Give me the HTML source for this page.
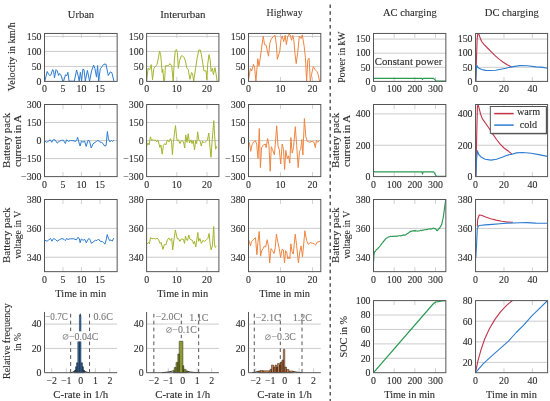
<!DOCTYPE html><html><head><meta charset="utf-8"><style>
html,body{margin:0;padding:0;background:#fff;width:550px;height:401px;overflow:hidden}
svg{display:block;will-change:transform} text{font-family:"Liberation Serif",serif;fill:#2b2b2b;stroke:#2b2b2b;stroke-width:0.1px} .t{font-size:9.9px}
</style></head><body>
<svg width="550" height="401" viewBox="0 0 550 401">
<defs>
<clipPath id="c00"><rect x="44.50" y="33.45" width="72.65" height="47.95"/></clipPath>
<clipPath id="c01"><rect x="146.60" y="33.45" width="72.30" height="47.95"/></clipPath>
<clipPath id="c02"><rect x="248.50" y="33.45" width="72.30" height="47.95"/></clipPath>
<clipPath id="c03"><rect x="373.50" y="33.45" width="72.35" height="47.95"/></clipPath>
<clipPath id="c04"><rect x="475.55" y="33.45" width="72.05" height="47.95"/></clipPath>
<clipPath id="c10"><rect x="44.50" y="104.50" width="72.65" height="72.10"/></clipPath>
<clipPath id="c11"><rect x="146.60" y="104.50" width="72.30" height="72.10"/></clipPath>
<clipPath id="c12"><rect x="248.50" y="104.50" width="72.30" height="72.10"/></clipPath>
<clipPath id="c13"><rect x="373.50" y="104.50" width="72.35" height="72.10"/></clipPath>
<clipPath id="c14"><rect x="475.55" y="104.50" width="72.05" height="72.10"/></clipPath>
<clipPath id="c20"><rect x="44.50" y="199.50" width="72.65" height="72.15"/></clipPath>
<clipPath id="c21"><rect x="146.60" y="199.50" width="72.30" height="72.15"/></clipPath>
<clipPath id="c22"><rect x="248.50" y="199.50" width="72.30" height="72.15"/></clipPath>
<clipPath id="c23"><rect x="373.50" y="199.50" width="72.35" height="72.15"/></clipPath>
<clipPath id="c24"><rect x="475.55" y="199.50" width="72.05" height="72.15"/></clipPath>
<clipPath id="c30"><rect x="44.50" y="300.60" width="72.65" height="72.10"/></clipPath>
<clipPath id="c31"><rect x="146.60" y="300.60" width="72.30" height="72.10"/></clipPath>
<clipPath id="c32"><rect x="248.50" y="300.60" width="72.30" height="72.10"/></clipPath>
<clipPath id="c33"><rect x="373.50" y="300.60" width="72.35" height="72.10"/></clipPath>
<clipPath id="c34"><rect x="475.55" y="300.60" width="72.05" height="72.10"/></clipPath>
</defs>
<text x="67.75" y="18.00" font-size="9.6" textLength="26.40" lengthAdjust="spacingAndGlyphs">Urban</text>
<text x="160.15" y="18.00" font-size="9.6" textLength="45.40" lengthAdjust="spacingAndGlyphs">Interurban</text>
<text x="266.55" y="16.20" font-size="9.6" textLength="36.10" lengthAdjust="spacingAndGlyphs">Highway</text>
<text x="382.95" y="16.20" font-size="9.6" textLength="53.70" lengthAdjust="spacingAndGlyphs">AC charging</text>
<text x="484.75" y="16.20" font-size="9.6" textLength="54.10" lengthAdjust="spacingAndGlyphs">DC charging</text>
<text x="55.38" y="296.70" font-size="9.6" textLength="50.80" lengthAdjust="spacingAndGlyphs">Time in min</text>
<text x="53.33" y="397.60" font-size="9.6" textLength="54.90" lengthAdjust="spacingAndGlyphs">C-rate in 1/h</text>
<text x="157.30" y="296.70" font-size="9.6" textLength="50.80" lengthAdjust="spacingAndGlyphs">Time in min</text>
<text x="155.25" y="397.60" font-size="9.6" textLength="54.90" lengthAdjust="spacingAndGlyphs">C-rate in 1/h</text>
<text x="259.20" y="296.70" font-size="9.6" textLength="50.80" lengthAdjust="spacingAndGlyphs">Time in min</text>
<text x="257.15" y="397.60" font-size="9.6" textLength="54.90" lengthAdjust="spacingAndGlyphs">C-rate in 1/h</text>
<text x="384.23" y="398.00" font-size="9.6" textLength="50.80" lengthAdjust="spacingAndGlyphs">Time in min</text>
<text x="486.13" y="398.00" font-size="9.6" textLength="50.80" lengthAdjust="spacingAndGlyphs">Time in min</text>
<text transform="translate(15.20 56.70) rotate(-90)" x="0" y="0" text-anchor="middle" font-size="9.6" textLength="69.00" lengthAdjust="spacingAndGlyphs">Velocity in km/h</text>
<text transform="translate(9.80 140.40) rotate(-90)" x="0" y="0" text-anchor="middle" font-size="9.6" textLength="55.20" lengthAdjust="spacingAndGlyphs">Battery pack</text>
<text transform="translate(21.00 140.85) rotate(-90)" x="0" y="0" text-anchor="middle" font-size="9.6" textLength="52.10" lengthAdjust="spacingAndGlyphs">current in A</text>
<text transform="translate(9.80 235.25) rotate(-90)" x="0" y="0" text-anchor="middle" font-size="9.6" textLength="55.50" lengthAdjust="spacingAndGlyphs">Battery pack</text>
<text transform="translate(21.00 234.75) rotate(-90)" x="0" y="0" text-anchor="middle" font-size="9.6" textLength="48.10" lengthAdjust="spacingAndGlyphs">voltage in V</text>
<text transform="translate(9.90 341.10) rotate(-90)" x="0" y="0" text-anchor="middle" font-size="9.6" textLength="75.80" lengthAdjust="spacingAndGlyphs">Relative frequency</text>
<text transform="translate(21.00 341.95) rotate(-90)" x="0" y="0" text-anchor="middle" font-size="9.6" textLength="17.90" lengthAdjust="spacingAndGlyphs">in %</text>
<text transform="translate(344.90 57.15) rotate(-90)" x="0" y="0" text-anchor="middle" font-size="9.6" textLength="51.10" lengthAdjust="spacingAndGlyphs">Power in kW</text>
<text transform="translate(338.70 140.40) rotate(-90)" x="0" y="0" text-anchor="middle" font-size="9.6" textLength="55.20" lengthAdjust="spacingAndGlyphs">Battery pack</text>
<text transform="translate(349.70 140.85) rotate(-90)" x="0" y="0" text-anchor="middle" font-size="9.6" textLength="52.10" lengthAdjust="spacingAndGlyphs">current in A</text>
<text transform="translate(338.70 235.25) rotate(-90)" x="0" y="0" text-anchor="middle" font-size="9.6" textLength="55.50" lengthAdjust="spacingAndGlyphs">Battery pack</text>
<text transform="translate(349.70 234.75) rotate(-90)" x="0" y="0" text-anchor="middle" font-size="9.6" textLength="48.10" lengthAdjust="spacingAndGlyphs">voltage in V</text>
<text transform="translate(347.10 336.75) rotate(-90)" x="0" y="0" text-anchor="middle" font-size="9.6" textLength="41.50" lengthAdjust="spacingAndGlyphs">SOC in %</text>
<line x1="44.50" y1="66.42" x2="117.15" y2="66.42" stroke="#c6c6c6" stroke-width="0.9"/>
<line x1="44.50" y1="51.43" x2="117.15" y2="51.43" stroke="#c6c6c6" stroke-width="0.9"/>
<line x1="44.50" y1="36.45" x2="117.15" y2="36.45" stroke="#c6c6c6" stroke-width="0.9"/>
<line x1="62.97" y1="81.40" x2="62.97" y2="76.90" stroke="#cccccc" stroke-width="0.9"/>
<line x1="62.97" y1="33.45" x2="62.97" y2="37.95" stroke="#cccccc" stroke-width="0.9"/>
<line x1="81.43" y1="81.40" x2="81.43" y2="76.90" stroke="#cccccc" stroke-width="0.9"/>
<line x1="81.43" y1="33.45" x2="81.43" y2="37.95" stroke="#cccccc" stroke-width="0.9"/>
<line x1="99.90" y1="81.40" x2="99.90" y2="76.90" stroke="#cccccc" stroke-width="0.9"/>
<line x1="99.90" y1="33.45" x2="99.90" y2="37.95" stroke="#cccccc" stroke-width="0.9"/>
<text x="41.50" y="84.70" text-anchor="end" class="t">0</text>
<text x="41.50" y="69.72" text-anchor="end" class="t">50</text>
<text x="41.50" y="54.73" text-anchor="end" class="t">100</text>
<text x="41.50" y="39.75" text-anchor="end" class="t">150</text>
<text x="44.50" y="92.40" text-anchor="middle" class="t">0</text>
<text x="62.97" y="92.40" text-anchor="middle" class="t">5</text>
<text x="81.43" y="92.40" text-anchor="middle" class="t">10</text>
<text x="99.90" y="92.40" text-anchor="middle" class="t">15</text>
<line x1="146.60" y1="66.42" x2="218.90" y2="66.42" stroke="#c6c6c6" stroke-width="0.9"/>
<line x1="146.60" y1="51.43" x2="218.90" y2="51.43" stroke="#c6c6c6" stroke-width="0.9"/>
<line x1="146.60" y1="36.45" x2="218.90" y2="36.45" stroke="#c6c6c6" stroke-width="0.9"/>
<line x1="176.80" y1="81.40" x2="176.80" y2="76.90" stroke="#cccccc" stroke-width="0.9"/>
<line x1="176.80" y1="33.45" x2="176.80" y2="37.95" stroke="#cccccc" stroke-width="0.9"/>
<line x1="207.00" y1="81.40" x2="207.00" y2="76.90" stroke="#cccccc" stroke-width="0.9"/>
<line x1="207.00" y1="33.45" x2="207.00" y2="37.95" stroke="#cccccc" stroke-width="0.9"/>
<text x="143.60" y="84.70" text-anchor="end" class="t">0</text>
<text x="143.60" y="69.72" text-anchor="end" class="t">50</text>
<text x="143.60" y="54.73" text-anchor="end" class="t">100</text>
<text x="143.60" y="39.75" text-anchor="end" class="t">150</text>
<text x="146.60" y="92.40" text-anchor="middle" class="t">0</text>
<text x="176.80" y="92.40" text-anchor="middle" class="t">10</text>
<text x="207.00" y="92.40" text-anchor="middle" class="t">20</text>
<line x1="248.50" y1="66.42" x2="320.80" y2="66.42" stroke="#c6c6c6" stroke-width="0.9"/>
<line x1="248.50" y1="51.43" x2="320.80" y2="51.43" stroke="#c6c6c6" stroke-width="0.9"/>
<line x1="248.50" y1="36.45" x2="320.80" y2="36.45" stroke="#c6c6c6" stroke-width="0.9"/>
<line x1="280.49" y1="81.40" x2="280.49" y2="76.90" stroke="#cccccc" stroke-width="0.9"/>
<line x1="280.49" y1="33.45" x2="280.49" y2="37.95" stroke="#cccccc" stroke-width="0.9"/>
<line x1="312.48" y1="81.40" x2="312.48" y2="76.90" stroke="#cccccc" stroke-width="0.9"/>
<line x1="312.48" y1="33.45" x2="312.48" y2="37.95" stroke="#cccccc" stroke-width="0.9"/>
<text x="245.50" y="84.70" text-anchor="end" class="t">0</text>
<text x="245.50" y="69.72" text-anchor="end" class="t">50</text>
<text x="245.50" y="54.73" text-anchor="end" class="t">100</text>
<text x="245.50" y="39.75" text-anchor="end" class="t">150</text>
<text x="248.50" y="92.40" text-anchor="middle" class="t">0</text>
<text x="280.49" y="92.40" text-anchor="middle" class="t">10</text>
<text x="312.48" y="92.40" text-anchor="middle" class="t">20</text>
<line x1="373.50" y1="67.30" x2="445.85" y2="67.30" stroke="#c6c6c6" stroke-width="0.9"/>
<line x1="373.50" y1="53.19" x2="445.85" y2="53.19" stroke="#c6c6c6" stroke-width="0.9"/>
<line x1="373.50" y1="39.09" x2="445.85" y2="39.09" stroke="#c6c6c6" stroke-width="0.9"/>
<line x1="394.17" y1="81.40" x2="394.17" y2="76.90" stroke="#cccccc" stroke-width="0.9"/>
<line x1="394.17" y1="33.45" x2="394.17" y2="37.95" stroke="#cccccc" stroke-width="0.9"/>
<line x1="414.84" y1="81.40" x2="414.84" y2="76.90" stroke="#cccccc" stroke-width="0.9"/>
<line x1="414.84" y1="33.45" x2="414.84" y2="37.95" stroke="#cccccc" stroke-width="0.9"/>
<line x1="435.51" y1="81.40" x2="435.51" y2="76.90" stroke="#cccccc" stroke-width="0.9"/>
<line x1="435.51" y1="33.45" x2="435.51" y2="37.95" stroke="#cccccc" stroke-width="0.9"/>
<text x="370.50" y="84.70" text-anchor="end" class="t">0</text>
<text x="370.50" y="70.60" text-anchor="end" class="t">50</text>
<text x="370.50" y="56.49" text-anchor="end" class="t">100</text>
<text x="370.50" y="42.39" text-anchor="end" class="t">150</text>
<text x="373.50" y="92.40" text-anchor="middle" class="t">0</text>
<text x="394.17" y="92.40" text-anchor="middle" class="t">100</text>
<text x="414.84" y="92.40" text-anchor="middle" class="t">200</text>
<text x="435.51" y="92.40" text-anchor="middle" class="t">300</text>
<line x1="475.55" y1="67.30" x2="547.60" y2="67.30" stroke="#c6c6c6" stroke-width="0.9"/>
<line x1="475.55" y1="53.19" x2="547.60" y2="53.19" stroke="#c6c6c6" stroke-width="0.9"/>
<line x1="475.55" y1="39.09" x2="547.60" y2="39.09" stroke="#c6c6c6" stroke-width="0.9"/>
<line x1="503.97" y1="81.40" x2="503.97" y2="76.90" stroke="#cccccc" stroke-width="0.9"/>
<line x1="503.97" y1="33.45" x2="503.97" y2="37.95" stroke="#cccccc" stroke-width="0.9"/>
<line x1="532.39" y1="81.40" x2="532.39" y2="76.90" stroke="#cccccc" stroke-width="0.9"/>
<line x1="532.39" y1="33.45" x2="532.39" y2="37.95" stroke="#cccccc" stroke-width="0.9"/>
<text x="472.55" y="84.70" text-anchor="end" class="t">0</text>
<text x="472.55" y="70.60" text-anchor="end" class="t">50</text>
<text x="472.55" y="56.49" text-anchor="end" class="t">100</text>
<text x="472.55" y="42.39" text-anchor="end" class="t">150</text>
<text x="475.55" y="92.40" text-anchor="middle" class="t">0</text>
<text x="503.97" y="92.40" text-anchor="middle" class="t">20</text>
<text x="532.39" y="92.40" text-anchor="middle" class="t">40</text>
<line x1="44.50" y1="158.57" x2="117.15" y2="158.57" stroke="#c6c6c6" stroke-width="0.9"/>
<line x1="44.50" y1="140.55" x2="117.15" y2="140.55" stroke="#c6c6c6" stroke-width="0.9"/>
<line x1="44.50" y1="122.53" x2="117.15" y2="122.53" stroke="#c6c6c6" stroke-width="0.9"/>
<line x1="62.97" y1="176.60" x2="62.97" y2="172.10" stroke="#cccccc" stroke-width="0.9"/>
<line x1="62.97" y1="104.50" x2="62.97" y2="109.00" stroke="#cccccc" stroke-width="0.9"/>
<line x1="81.43" y1="176.60" x2="81.43" y2="172.10" stroke="#cccccc" stroke-width="0.9"/>
<line x1="81.43" y1="104.50" x2="81.43" y2="109.00" stroke="#cccccc" stroke-width="0.9"/>
<line x1="99.90" y1="176.60" x2="99.90" y2="172.10" stroke="#cccccc" stroke-width="0.9"/>
<line x1="99.90" y1="104.50" x2="99.90" y2="109.00" stroke="#cccccc" stroke-width="0.9"/>
<text x="41.50" y="179.90" text-anchor="end" class="t">−300</text>
<text x="41.50" y="161.88" text-anchor="end" class="t">−150</text>
<text x="41.50" y="143.85" text-anchor="end" class="t">0</text>
<text x="41.50" y="125.83" text-anchor="end" class="t">150</text>
<text x="41.50" y="107.80" text-anchor="end" class="t">300</text>
<text x="44.50" y="187.60" text-anchor="middle" class="t">0</text>
<text x="62.97" y="187.60" text-anchor="middle" class="t">5</text>
<text x="81.43" y="187.60" text-anchor="middle" class="t">10</text>
<text x="99.90" y="187.60" text-anchor="middle" class="t">15</text>
<line x1="146.60" y1="158.57" x2="218.90" y2="158.57" stroke="#c6c6c6" stroke-width="0.9"/>
<line x1="146.60" y1="140.55" x2="218.90" y2="140.55" stroke="#c6c6c6" stroke-width="0.9"/>
<line x1="146.60" y1="122.53" x2="218.90" y2="122.53" stroke="#c6c6c6" stroke-width="0.9"/>
<line x1="176.80" y1="176.60" x2="176.80" y2="172.10" stroke="#cccccc" stroke-width="0.9"/>
<line x1="176.80" y1="104.50" x2="176.80" y2="109.00" stroke="#cccccc" stroke-width="0.9"/>
<line x1="207.00" y1="176.60" x2="207.00" y2="172.10" stroke="#cccccc" stroke-width="0.9"/>
<line x1="207.00" y1="104.50" x2="207.00" y2="109.00" stroke="#cccccc" stroke-width="0.9"/>
<text x="143.60" y="179.90" text-anchor="end" class="t">−300</text>
<text x="143.60" y="161.88" text-anchor="end" class="t">−150</text>
<text x="143.60" y="143.85" text-anchor="end" class="t">0</text>
<text x="143.60" y="125.83" text-anchor="end" class="t">150</text>
<text x="143.60" y="107.80" text-anchor="end" class="t">300</text>
<text x="146.60" y="187.60" text-anchor="middle" class="t">0</text>
<text x="176.80" y="187.60" text-anchor="middle" class="t">10</text>
<text x="207.00" y="187.60" text-anchor="middle" class="t">20</text>
<line x1="248.50" y1="158.57" x2="320.80" y2="158.57" stroke="#c6c6c6" stroke-width="0.9"/>
<line x1="248.50" y1="140.55" x2="320.80" y2="140.55" stroke="#c6c6c6" stroke-width="0.9"/>
<line x1="248.50" y1="122.53" x2="320.80" y2="122.53" stroke="#c6c6c6" stroke-width="0.9"/>
<line x1="280.49" y1="176.60" x2="280.49" y2="172.10" stroke="#cccccc" stroke-width="0.9"/>
<line x1="280.49" y1="104.50" x2="280.49" y2="109.00" stroke="#cccccc" stroke-width="0.9"/>
<line x1="312.48" y1="176.60" x2="312.48" y2="172.10" stroke="#cccccc" stroke-width="0.9"/>
<line x1="312.48" y1="104.50" x2="312.48" y2="109.00" stroke="#cccccc" stroke-width="0.9"/>
<text x="245.50" y="179.90" text-anchor="end" class="t">−300</text>
<text x="245.50" y="161.88" text-anchor="end" class="t">−150</text>
<text x="245.50" y="143.85" text-anchor="end" class="t">0</text>
<text x="245.50" y="125.83" text-anchor="end" class="t">150</text>
<text x="245.50" y="107.80" text-anchor="end" class="t">300</text>
<text x="248.50" y="187.60" text-anchor="middle" class="t">0</text>
<text x="280.49" y="187.60" text-anchor="middle" class="t">10</text>
<text x="312.48" y="187.60" text-anchor="middle" class="t">20</text>
<line x1="373.50" y1="145.25" x2="445.85" y2="145.25" stroke="#c6c6c6" stroke-width="0.9"/>
<line x1="373.50" y1="113.90" x2="445.85" y2="113.90" stroke="#c6c6c6" stroke-width="0.9"/>
<line x1="394.17" y1="176.60" x2="394.17" y2="172.10" stroke="#cccccc" stroke-width="0.9"/>
<line x1="394.17" y1="104.50" x2="394.17" y2="109.00" stroke="#cccccc" stroke-width="0.9"/>
<line x1="414.84" y1="176.60" x2="414.84" y2="172.10" stroke="#cccccc" stroke-width="0.9"/>
<line x1="414.84" y1="104.50" x2="414.84" y2="109.00" stroke="#cccccc" stroke-width="0.9"/>
<line x1="435.51" y1="176.60" x2="435.51" y2="172.10" stroke="#cccccc" stroke-width="0.9"/>
<line x1="435.51" y1="104.50" x2="435.51" y2="109.00" stroke="#cccccc" stroke-width="0.9"/>
<text x="370.50" y="179.90" text-anchor="end" class="t">0</text>
<text x="370.50" y="148.55" text-anchor="end" class="t">200</text>
<text x="370.50" y="117.20" text-anchor="end" class="t">400</text>
<text x="373.50" y="187.60" text-anchor="middle" class="t">0</text>
<text x="394.17" y="187.60" text-anchor="middle" class="t">100</text>
<text x="414.84" y="187.60" text-anchor="middle" class="t">200</text>
<text x="435.51" y="187.60" text-anchor="middle" class="t">300</text>
<line x1="475.55" y1="145.25" x2="547.60" y2="145.25" stroke="#c6c6c6" stroke-width="0.9"/>
<line x1="475.55" y1="113.90" x2="547.60" y2="113.90" stroke="#c6c6c6" stroke-width="0.9"/>
<line x1="503.97" y1="176.60" x2="503.97" y2="172.10" stroke="#cccccc" stroke-width="0.9"/>
<line x1="503.97" y1="104.50" x2="503.97" y2="109.00" stroke="#cccccc" stroke-width="0.9"/>
<line x1="532.39" y1="176.60" x2="532.39" y2="172.10" stroke="#cccccc" stroke-width="0.9"/>
<line x1="532.39" y1="104.50" x2="532.39" y2="109.00" stroke="#cccccc" stroke-width="0.9"/>
<text x="472.55" y="179.90" text-anchor="end" class="t">0</text>
<text x="472.55" y="148.55" text-anchor="end" class="t">200</text>
<text x="472.55" y="117.20" text-anchor="end" class="t">400</text>
<text x="475.55" y="187.60" text-anchor="middle" class="t">0</text>
<text x="503.97" y="187.60" text-anchor="middle" class="t">20</text>
<text x="532.39" y="187.60" text-anchor="middle" class="t">40</text>
<line x1="44.50" y1="257.22" x2="117.15" y2="257.22" stroke="#c6c6c6" stroke-width="0.9"/>
<line x1="44.50" y1="228.36" x2="117.15" y2="228.36" stroke="#c6c6c6" stroke-width="0.9"/>
<line x1="62.97" y1="271.65" x2="62.97" y2="267.15" stroke="#cccccc" stroke-width="0.9"/>
<line x1="62.97" y1="199.50" x2="62.97" y2="204.00" stroke="#cccccc" stroke-width="0.9"/>
<line x1="81.43" y1="271.65" x2="81.43" y2="267.15" stroke="#cccccc" stroke-width="0.9"/>
<line x1="81.43" y1="199.50" x2="81.43" y2="204.00" stroke="#cccccc" stroke-width="0.9"/>
<line x1="99.90" y1="271.65" x2="99.90" y2="267.15" stroke="#cccccc" stroke-width="0.9"/>
<line x1="99.90" y1="199.50" x2="99.90" y2="204.00" stroke="#cccccc" stroke-width="0.9"/>
<text x="41.50" y="260.52" text-anchor="end" class="t">340</text>
<text x="41.50" y="231.66" text-anchor="end" class="t">360</text>
<text x="41.50" y="202.80" text-anchor="end" class="t">380</text>
<text x="44.50" y="282.65" text-anchor="middle" class="t">0</text>
<text x="62.97" y="282.65" text-anchor="middle" class="t">5</text>
<text x="81.43" y="282.65" text-anchor="middle" class="t">10</text>
<text x="99.90" y="282.65" text-anchor="middle" class="t">15</text>
<line x1="146.60" y1="257.22" x2="218.90" y2="257.22" stroke="#c6c6c6" stroke-width="0.9"/>
<line x1="146.60" y1="228.36" x2="218.90" y2="228.36" stroke="#c6c6c6" stroke-width="0.9"/>
<line x1="176.80" y1="271.65" x2="176.80" y2="267.15" stroke="#cccccc" stroke-width="0.9"/>
<line x1="176.80" y1="199.50" x2="176.80" y2="204.00" stroke="#cccccc" stroke-width="0.9"/>
<line x1="207.00" y1="271.65" x2="207.00" y2="267.15" stroke="#cccccc" stroke-width="0.9"/>
<line x1="207.00" y1="199.50" x2="207.00" y2="204.00" stroke="#cccccc" stroke-width="0.9"/>
<text x="143.60" y="260.52" text-anchor="end" class="t">340</text>
<text x="143.60" y="231.66" text-anchor="end" class="t">360</text>
<text x="143.60" y="202.80" text-anchor="end" class="t">380</text>
<text x="146.60" y="282.65" text-anchor="middle" class="t">0</text>
<text x="176.80" y="282.65" text-anchor="middle" class="t">10</text>
<text x="207.00" y="282.65" text-anchor="middle" class="t">20</text>
<line x1="248.50" y1="257.22" x2="320.80" y2="257.22" stroke="#c6c6c6" stroke-width="0.9"/>
<line x1="248.50" y1="228.36" x2="320.80" y2="228.36" stroke="#c6c6c6" stroke-width="0.9"/>
<line x1="280.49" y1="271.65" x2="280.49" y2="267.15" stroke="#cccccc" stroke-width="0.9"/>
<line x1="280.49" y1="199.50" x2="280.49" y2="204.00" stroke="#cccccc" stroke-width="0.9"/>
<line x1="312.48" y1="271.65" x2="312.48" y2="267.15" stroke="#cccccc" stroke-width="0.9"/>
<line x1="312.48" y1="199.50" x2="312.48" y2="204.00" stroke="#cccccc" stroke-width="0.9"/>
<text x="245.50" y="260.52" text-anchor="end" class="t">340</text>
<text x="245.50" y="231.66" text-anchor="end" class="t">360</text>
<text x="245.50" y="202.80" text-anchor="end" class="t">380</text>
<text x="248.50" y="282.65" text-anchor="middle" class="t">0</text>
<text x="280.49" y="282.65" text-anchor="middle" class="t">10</text>
<text x="312.48" y="282.65" text-anchor="middle" class="t">20</text>
<line x1="373.50" y1="257.22" x2="445.85" y2="257.22" stroke="#c6c6c6" stroke-width="0.9"/>
<line x1="373.50" y1="228.36" x2="445.85" y2="228.36" stroke="#c6c6c6" stroke-width="0.9"/>
<line x1="394.17" y1="271.65" x2="394.17" y2="267.15" stroke="#cccccc" stroke-width="0.9"/>
<line x1="394.17" y1="199.50" x2="394.17" y2="204.00" stroke="#cccccc" stroke-width="0.9"/>
<line x1="414.84" y1="271.65" x2="414.84" y2="267.15" stroke="#cccccc" stroke-width="0.9"/>
<line x1="414.84" y1="199.50" x2="414.84" y2="204.00" stroke="#cccccc" stroke-width="0.9"/>
<line x1="435.51" y1="271.65" x2="435.51" y2="267.15" stroke="#cccccc" stroke-width="0.9"/>
<line x1="435.51" y1="199.50" x2="435.51" y2="204.00" stroke="#cccccc" stroke-width="0.9"/>
<text x="370.50" y="260.52" text-anchor="end" class="t">340</text>
<text x="370.50" y="231.66" text-anchor="end" class="t">360</text>
<text x="370.50" y="202.80" text-anchor="end" class="t">380</text>
<text x="373.50" y="282.65" text-anchor="middle" class="t">0</text>
<text x="394.17" y="282.65" text-anchor="middle" class="t">100</text>
<text x="414.84" y="282.65" text-anchor="middle" class="t">200</text>
<text x="435.51" y="282.65" text-anchor="middle" class="t">300</text>
<line x1="475.55" y1="257.22" x2="547.60" y2="257.22" stroke="#c6c6c6" stroke-width="0.9"/>
<line x1="475.55" y1="228.36" x2="547.60" y2="228.36" stroke="#c6c6c6" stroke-width="0.9"/>
<line x1="503.97" y1="271.65" x2="503.97" y2="267.15" stroke="#cccccc" stroke-width="0.9"/>
<line x1="503.97" y1="199.50" x2="503.97" y2="204.00" stroke="#cccccc" stroke-width="0.9"/>
<line x1="532.39" y1="271.65" x2="532.39" y2="267.15" stroke="#cccccc" stroke-width="0.9"/>
<line x1="532.39" y1="199.50" x2="532.39" y2="204.00" stroke="#cccccc" stroke-width="0.9"/>
<text x="472.55" y="260.52" text-anchor="end" class="t">340</text>
<text x="472.55" y="231.66" text-anchor="end" class="t">360</text>
<text x="472.55" y="202.80" text-anchor="end" class="t">380</text>
<text x="475.55" y="282.65" text-anchor="middle" class="t">0</text>
<text x="503.97" y="282.65" text-anchor="middle" class="t">20</text>
<text x="532.39" y="282.65" text-anchor="middle" class="t">40</text>
<line x1="44.50" y1="348.40" x2="117.15" y2="348.40" stroke="#c6c6c6" stroke-width="0.9"/>
<line x1="44.50" y1="324.10" x2="117.15" y2="324.10" stroke="#c6c6c6" stroke-width="0.9"/>
<line x1="51.77" y1="372.70" x2="51.77" y2="368.20" stroke="#cccccc" stroke-width="0.9"/>
<line x1="66.30" y1="372.70" x2="66.30" y2="368.20" stroke="#cccccc" stroke-width="0.9"/>
<line x1="80.83" y1="372.70" x2="80.83" y2="368.20" stroke="#cccccc" stroke-width="0.9"/>
<line x1="95.36" y1="372.70" x2="95.36" y2="368.20" stroke="#cccccc" stroke-width="0.9"/>
<line x1="109.89" y1="372.70" x2="109.89" y2="368.20" stroke="#cccccc" stroke-width="0.9"/>
<text x="41.50" y="376.00" text-anchor="end" class="t">0</text>
<text x="41.50" y="351.70" text-anchor="end" class="t">20</text>
<text x="41.50" y="327.40" text-anchor="end" class="t">40</text>
<text x="51.77" y="383.70" text-anchor="middle" class="t">−2</text>
<text x="66.30" y="383.70" text-anchor="middle" class="t">−1</text>
<text x="80.83" y="383.70" text-anchor="middle" class="t">0</text>
<text x="95.36" y="383.70" text-anchor="middle" class="t">1</text>
<text x="109.89" y="383.70" text-anchor="middle" class="t">2</text>
<line x1="146.60" y1="348.40" x2="218.90" y2="348.40" stroke="#c6c6c6" stroke-width="0.9"/>
<line x1="146.60" y1="324.10" x2="218.90" y2="324.10" stroke="#c6c6c6" stroke-width="0.9"/>
<line x1="153.83" y1="372.70" x2="153.83" y2="368.20" stroke="#cccccc" stroke-width="0.9"/>
<line x1="168.29" y1="372.70" x2="168.29" y2="368.20" stroke="#cccccc" stroke-width="0.9"/>
<line x1="182.75" y1="372.70" x2="182.75" y2="368.20" stroke="#cccccc" stroke-width="0.9"/>
<line x1="197.21" y1="372.70" x2="197.21" y2="368.20" stroke="#cccccc" stroke-width="0.9"/>
<line x1="211.67" y1="372.70" x2="211.67" y2="368.20" stroke="#cccccc" stroke-width="0.9"/>
<text x="143.60" y="376.00" text-anchor="end" class="t">0</text>
<text x="143.60" y="351.70" text-anchor="end" class="t">20</text>
<text x="143.60" y="327.40" text-anchor="end" class="t">40</text>
<text x="153.83" y="383.70" text-anchor="middle" class="t">−2</text>
<text x="168.29" y="383.70" text-anchor="middle" class="t">−1</text>
<text x="182.75" y="383.70" text-anchor="middle" class="t">0</text>
<text x="197.21" y="383.70" text-anchor="middle" class="t">1</text>
<text x="211.67" y="383.70" text-anchor="middle" class="t">2</text>
<line x1="248.50" y1="348.40" x2="320.80" y2="348.40" stroke="#c6c6c6" stroke-width="0.9"/>
<line x1="248.50" y1="324.10" x2="320.80" y2="324.10" stroke="#c6c6c6" stroke-width="0.9"/>
<line x1="255.73" y1="372.70" x2="255.73" y2="368.20" stroke="#cccccc" stroke-width="0.9"/>
<line x1="270.19" y1="372.70" x2="270.19" y2="368.20" stroke="#cccccc" stroke-width="0.9"/>
<line x1="284.65" y1="372.70" x2="284.65" y2="368.20" stroke="#cccccc" stroke-width="0.9"/>
<line x1="299.11" y1="372.70" x2="299.11" y2="368.20" stroke="#cccccc" stroke-width="0.9"/>
<line x1="313.57" y1="372.70" x2="313.57" y2="368.20" stroke="#cccccc" stroke-width="0.9"/>
<text x="245.50" y="376.00" text-anchor="end" class="t">0</text>
<text x="245.50" y="351.70" text-anchor="end" class="t">20</text>
<text x="245.50" y="327.40" text-anchor="end" class="t">40</text>
<text x="255.73" y="383.70" text-anchor="middle" class="t">−2</text>
<text x="270.19" y="383.70" text-anchor="middle" class="t">−1</text>
<text x="284.65" y="383.70" text-anchor="middle" class="t">0</text>
<text x="299.11" y="383.70" text-anchor="middle" class="t">1</text>
<text x="313.57" y="383.70" text-anchor="middle" class="t">2</text>
<line x1="373.50" y1="358.28" x2="445.85" y2="358.28" stroke="#c6c6c6" stroke-width="0.9"/>
<line x1="373.50" y1="343.86" x2="445.85" y2="343.86" stroke="#c6c6c6" stroke-width="0.9"/>
<line x1="373.50" y1="329.44" x2="445.85" y2="329.44" stroke="#c6c6c6" stroke-width="0.9"/>
<line x1="373.50" y1="315.02" x2="445.85" y2="315.02" stroke="#c6c6c6" stroke-width="0.9"/>
<line x1="394.17" y1="372.70" x2="394.17" y2="368.20" stroke="#cccccc" stroke-width="0.9"/>
<line x1="394.17" y1="300.60" x2="394.17" y2="305.10" stroke="#cccccc" stroke-width="0.9"/>
<line x1="414.84" y1="372.70" x2="414.84" y2="368.20" stroke="#cccccc" stroke-width="0.9"/>
<line x1="414.84" y1="300.60" x2="414.84" y2="305.10" stroke="#cccccc" stroke-width="0.9"/>
<line x1="435.51" y1="372.70" x2="435.51" y2="368.20" stroke="#cccccc" stroke-width="0.9"/>
<line x1="435.51" y1="300.60" x2="435.51" y2="305.10" stroke="#cccccc" stroke-width="0.9"/>
<text x="370.50" y="376.00" text-anchor="end" class="t">0</text>
<text x="370.50" y="361.58" text-anchor="end" class="t">20</text>
<text x="370.50" y="347.16" text-anchor="end" class="t">40</text>
<text x="370.50" y="332.74" text-anchor="end" class="t">60</text>
<text x="370.50" y="318.32" text-anchor="end" class="t">80</text>
<text x="370.50" y="303.90" text-anchor="end" class="t">100</text>
<text x="373.50" y="383.70" text-anchor="middle" class="t">0</text>
<text x="394.17" y="383.70" text-anchor="middle" class="t">100</text>
<text x="414.84" y="383.70" text-anchor="middle" class="t">200</text>
<text x="435.51" y="383.70" text-anchor="middle" class="t">300</text>
<line x1="475.55" y1="362.40" x2="547.60" y2="362.40" stroke="#c6c6c6" stroke-width="0.9"/>
<line x1="475.55" y1="341.80" x2="547.60" y2="341.80" stroke="#c6c6c6" stroke-width="0.9"/>
<line x1="475.55" y1="321.20" x2="547.60" y2="321.20" stroke="#c6c6c6" stroke-width="0.9"/>
<line x1="503.97" y1="372.70" x2="503.97" y2="368.20" stroke="#cccccc" stroke-width="0.9"/>
<line x1="503.97" y1="300.60" x2="503.97" y2="305.10" stroke="#cccccc" stroke-width="0.9"/>
<line x1="532.39" y1="372.70" x2="532.39" y2="368.20" stroke="#cccccc" stroke-width="0.9"/>
<line x1="532.39" y1="300.60" x2="532.39" y2="305.10" stroke="#cccccc" stroke-width="0.9"/>
<text x="472.55" y="365.70" text-anchor="end" class="t">20</text>
<text x="472.55" y="345.10" text-anchor="end" class="t">40</text>
<text x="472.55" y="324.50" text-anchor="end" class="t">60</text>
<text x="472.55" y="303.90" text-anchor="end" class="t">80</text>
<text x="475.55" y="383.70" text-anchor="middle" class="t">0</text>
<text x="503.97" y="383.70" text-anchor="middle" class="t">20</text>
<text x="532.39" y="383.70" text-anchor="middle" class="t">40</text>
<polyline points="44.80,81.20 47.20,71.50 48.40,73.90 49.60,75.50 50.80,75.10 52.60,69.60 53.60,70.80 54.50,77.90 56.00,69.60 57.20,70.80 58.60,75.50 59.60,73.50 60.80,74.70 62.80,81.20 63.60,81.20 65.50,74.70 66.70,75.90 67.90,72.30 69.10,81.20 74.30,81.20 76.60,70.00 78.30,76.30 79.20,81.00 80.40,72.30 81.60,81.00 82.80,69.20 84.00,69.60 85.30,81.00 87.40,70.40 89.60,81.20 91.60,70.80 93.60,65.20 94.90,68.40 96.50,77.10 97.60,65.60 98.60,81.20 100.30,68.80 101.90,66.80 103.50,64.40 105.90,64.00 108.30,75.50 110.30,71.90 111.90,72.70 113.90,81.20" fill="none" stroke="#2c7cd0" stroke-width="1.0" stroke-linejoin="round" clip-path="url(#c00)"/>
<polyline points="146.60,81.20 148.10,68.30 149.70,69.80 151.20,64.60 152.50,79.80 153.90,68.30 155.40,66.20 157.00,64.60 158.40,57.80 159.60,51.00 160.70,54.70 162.20,72.50 162.80,69.30 163.80,81.00 164.60,80.50 165.40,65.70 166.90,65.70 168.50,65.70 169.90,63.60 171.70,65.70 173.20,81.00 174.30,60.90 175.30,50.50 176.40,49.40 177.40,52.60 178.30,68.30 179.50,60.90 181.10,56.20 182.10,55.70 184.10,57.30 185.70,62.00 186.70,67.70 188.30,69.80 189.90,79.30 191.60,72.50 192.50,73.50 193.70,81.00 195.60,68.30 197.20,57.80 198.80,50.00 200.30,50.00 201.40,54.70 202.90,64.10 204.00,70.90 206.10,70.90 206.90,79.80 207.70,64.10 209.00,54.70 210.10,59.40 211.10,71.40 212.40,68.30 213.40,74.60 215.00,67.70 216.00,73.50 217.10,81.00" fill="none" stroke="#a3b42c" stroke-width="1.0" stroke-linejoin="round" clip-path="url(#c01)"/>
<polyline points="248.60,79.50 250.40,68.50 251.70,70.90 253.50,64.20 254.70,68.50 255.90,81.00 257.80,58.70 259.00,66.00 260.20,58.70 262.10,44.00 263.30,36.10 264.50,44.60 266.10,45.20 268.50,56.20 269.80,43.40 271.20,39.10 273.10,36.70 275.10,35.40 276.40,45.20 277.30,59.30 278.60,55.00 279.80,51.30 281.00,39.10 282.20,36.10 283.70,41.60 285.20,35.40 286.40,44.60 287.70,36.70 288.90,34.20 290.10,34.80 291.60,40.30 292.80,35.40 293.80,39.70 295.00,53.80 296.20,63.60 297.70,52.60 299.30,36.10 301.10,38.50 302.30,34.80 304.20,46.40 305.40,57.40 306.60,81.00 307.80,59.90 309.10,58.10 310.30,81.00 311.50,74.60 313.30,66.60 315.20,69.70 317.00,71.50 318.20,74.60 319.50,81.00" fill="none" stroke="#ee8540" stroke-width="1.0" stroke-linejoin="round" clip-path="url(#c02)"/>
<polyline points="44.80,141.00 46.50,142.30 48.10,141.40 50.20,139.80 51.80,142.30 53.00,139.80 55.10,139.80 57.20,143.10 59.20,141.40 61.70,140.20 63.30,140.20 65.40,143.50 66.60,139.80 68.30,141.40 70.30,140.60 72.80,140.60 75.70,141.40 76.90,139.40 77.70,137.30 78.50,141.00 80.10,146.00 81.50,140.90 83.00,142.40 84.50,140.90 86.20,146.40 88.00,140.40 89.50,140.90 91.20,147.90 93.00,143.90 95.00,142.40 96.50,141.40 97.90,140.40 99.90,141.90 101.40,142.40 102.90,143.40 104.70,146.10 106.10,145.40 107.40,131.50 108.40,138.90 109.90,141.90 111.40,140.40 112.40,141.40 113.90,140.40" fill="none" stroke="#2c7cd0" stroke-width="1.0" stroke-linejoin="round" clip-path="url(#c10)"/>
<polyline points="146.60,146.10 147.90,143.00 149.10,144.90 150.40,136.80 151.60,140.50 152.80,139.60 154.10,140.50 155.30,139.90 156.60,141.80 157.80,139.90 159.10,144.20 159.90,147.40 160.90,144.90 162.20,154.20 163.40,145.50 164.70,143.60 165.90,144.90 167.40,139.90 169.00,141.80 170.30,138.60 171.50,141.10 172.40,154.80 173.40,142.40 174.40,133.70 175.50,125.60 176.50,136.20 177.10,140.50 178.60,139.90 179.90,143.60 181.10,141.10 182.00,140.50 183.50,141.80 184.70,148.00 185.70,134.90 187.00,142.40 188.20,133.70 189.50,143.00 191.00,139.90 192.00,143.60 193.20,140.50 194.50,149.90 195.70,140.50 196.70,143.60 197.60,131.80 198.80,139.90 200.10,141.10 201.30,146.10 202.50,141.10 204.40,143.00 206.30,141.10 207.50,139.90 208.80,133.00 210.00,147.40 211.00,157.30 212.10,141.10 213.80,120.60 214.60,134.90 215.60,149.20 216.90,146.10" fill="none" stroke="#a3b42c" stroke-width="1.0" stroke-linejoin="round" clip-path="url(#c11)"/>
<polyline points="248.40,141.30 249.50,143.10 250.70,151.30 252.00,144.90 253.50,142.20 255.30,140.40 256.70,144.00 258.00,158.50 259.30,128.50 260.40,167.60 261.60,147.60 263.50,144.90 265.30,144.00 266.20,147.60 267.60,138.50 268.90,144.90 270.20,171.30 271.30,146.70 272.50,149.50 274.40,154.90 275.60,140.40 276.70,125.80 278.00,145.80 279.30,149.50 280.70,164.00 282.20,144.00 283.50,149.50 284.60,169.50 285.80,150.40 287.30,158.50 288.50,155.80 289.80,163.10 290.90,137.60 292.20,153.10 293.50,147.60 295.30,126.70 296.70,145.80 298.20,167.60 299.50,151.30 300.70,149.50 301.80,139.50 302.90,154.90 304.40,118.50 305.80,136.70 307.30,141.30 309.50,142.20 312.20,141.30 314.00,142.20 315.30,147.60 316.40,140.40 317.60,142.20 319.50,140.40" fill="none" stroke="#ee8540" stroke-width="1.0" stroke-linejoin="round" clip-path="url(#c12)"/>
<polyline points="44.90,240.30 47.10,241.20 48.80,239.80 50.60,238.50 51.90,241.20 53.60,238.50 55.40,239.40 57.10,241.20 59.30,239.80 61.90,238.50 64.10,239.40 65.40,240.70 66.50,238.50 68.00,239.40 70.20,238.80 73.70,238.80 76.30,239.80 78.10,237.20 79.40,239.00 80.10,242.70 81.30,239.00 83.10,240.30 84.80,239.40 86.30,242.90 87.90,239.40 89.20,238.50 90.30,240.30 91.40,243.30 93.10,242.00 95.30,240.30 97.00,240.50 98.50,239.00 100.10,241.20 102.30,241.60 103.60,242.50 104.90,244.20 106.20,239.80 107.20,234.60 108.40,238.10 109.70,240.70 111.00,239.80 112.30,241.20 113.60,238.10" fill="none" stroke="#2c7cd0" stroke-width="1.0" stroke-linejoin="round" clip-path="url(#c20)"/>
<polyline points="147.00,243.90 148.50,242.40 149.50,243.90 150.50,237.40 152.00,238.90 153.50,238.40 155.50,238.90 157.00,238.40 158.50,239.40 160.00,243.40 161.20,242.40 162.90,249.40 164.40,244.40 165.90,244.90 167.40,239.90 168.90,237.90 170.40,240.40 171.70,238.40 172.70,249.90 173.90,239.90 175.40,230.00 176.40,235.00 177.40,238.90 178.40,238.40 179.90,241.40 181.40,238.90 183.50,239.40 184.50,243.40 185.50,236.00 186.50,239.90 187.50,240.40 188.80,235.00 190.00,239.40 191.20,239.90 192.50,240.40 193.50,243.90 194.50,241.40 195.80,246.90 197.00,238.40 197.80,232.50 198.70,241.40 199.90,238.40 201.40,243.40 202.90,240.40 204.40,241.40 206.40,239.90 207.90,238.40 209.10,233.50 210.10,243.40 211.10,249.90 212.40,245.90 213.70,226.50 214.40,242.90 215.10,247.40 216.40,246.40" fill="none" stroke="#a3b42c" stroke-width="1.0" stroke-linejoin="round" clip-path="url(#c21)"/>
<polyline points="248.30,239.00 249.40,241.70 250.50,245.90 251.40,241.70 253.50,239.70 255.50,237.60 256.90,254.80 257.90,242.40 259.20,231.50 260.60,256.20 261.70,250.70 263.10,248.60 264.50,245.90 265.60,247.20 267.20,239.70 268.60,247.20 269.70,263.00 271.00,248.60 272.40,250.70 274.10,253.40 275.20,247.90 276.40,234.20 277.90,242.40 279.30,248.60 280.60,257.50 282.00,249.30 283.40,250.00 284.50,263.00 285.60,250.70 286.70,252.00 287.80,258.90 288.80,256.80 289.80,258.90 290.90,243.80 292.00,251.40 293.30,254.10 295.20,234.20 296.60,245.20 298.40,263.00 299.80,252.00 301.10,245.90 302.50,256.80 304.90,230.80 306.60,240.40 308.40,244.50 310.10,242.40 312.10,243.10 314.20,243.80 315.60,245.20 316.90,242.40 319.00,241.70 320.40,241.10" fill="none" stroke="#ee8540" stroke-width="1.0" stroke-linejoin="round" clip-path="url(#c22)"/>
<polyline points="373.50,78.20 374.50,78.40 422.00,78.40 422.50,79.40 423.00,78.40 433.60,78.40 435.80,80.70 437.00,81.00 445.80,81.00" fill="none" stroke="#2b9a52" stroke-width="1.15" stroke-linejoin="round" clip-path="url(#c03)"/>
<polyline points="373.50,171.30 374.50,171.80 422.00,171.80 422.50,174.00 423.00,171.80 433.60,171.80 436.30,176.20 437.50,176.40 445.80,176.40" fill="none" stroke="#2b9a52" stroke-width="1.15" stroke-linejoin="round" clip-path="url(#c13)"/>
<polyline points="373.60,261.44 373.63,261.29 373.66,260.58 373.69,259.58 373.72,259.10 373.75,258.41 373.78,257.91 373.81,257.35 373.84,256.22 373.87,255.52 373.90,255.44 374.05,254.54 374.20,254.15 374.35,253.00 374.50,252.70 374.65,252.27 374.80,251.31 375.27,251.36 375.75,250.88 376.23,249.82 376.70,249.37 377.17,249.26 377.63,249.07 378.10,248.22 378.57,247.63 379.03,247.31 379.50,246.57 379.89,246.18 380.27,245.80 380.66,245.31 381.04,244.60 381.43,244.07 381.81,243.53 382.20,243.17 382.60,242.52 383.00,241.81 383.40,241.85 383.80,241.13 384.20,240.66 384.60,239.81 385.00,239.84 385.47,239.35 385.93,238.43 386.40,238.18 386.87,238.06 387.33,237.65 387.80,237.41 388.42,236.90 389.03,237.03 389.65,236.77 390.27,236.36 390.88,236.41 391.50,236.47 392.10,236.48 392.70,236.27 393.30,236.36 393.90,236.01 394.50,236.19 395.10,236.61 395.72,236.24 396.33,235.97 396.95,236.13 397.57,236.14 398.18,236.02 398.80,235.71 399.42,235.71 400.03,235.71 400.65,235.84 401.27,235.61 401.88,235.48 402.50,235.49 403.12,235.00 403.73,234.85 404.35,235.14 404.97,235.17 405.58,234.73 406.20,234.43 406.80,233.80 407.40,233.57 408.00,233.44 408.56,232.91 409.12,232.37 409.68,232.21 410.24,231.39 410.80,231.21 411.48,231.42 412.15,231.05 412.82,230.87 413.50,230.64 414.12,230.83 414.74,231.12 415.37,230.45 415.99,231.00 416.61,231.02 417.23,231.07 417.86,230.97 418.48,231.02 419.10,230.81 419.71,230.74 420.32,230.55 420.93,230.19 421.54,230.66 422.16,230.35 422.77,229.99 423.38,230.10 423.99,229.99 424.60,229.80 425.21,229.69 425.82,229.73 426.43,229.69 427.04,229.58 427.66,229.37 428.27,228.97 428.88,229.01 429.49,228.87 430.10,229.06 430.72,229.10 431.33,228.91 431.95,228.76 432.57,228.62 433.18,228.08 433.80,228.34 434.43,228.65 435.07,228.67 435.70,229.06 436.20,229.53 436.70,230.51 437.20,230.62 437.64,230.05 438.08,229.93 438.52,229.25 438.96,228.58 439.40,228.40 441.60,224.80 443.40,216.50 444.90,205.40 445.80,199.50" fill="none" stroke="#2b9a52" stroke-width="1.15" stroke-linejoin="round" clip-path="url(#c23)"/>
<polyline points="373.50,372.70 433.10,304.00 435.50,302.00 438.70,301.60 441.90,301.00 445.80,300.60" fill="none" stroke="#2b9a52" stroke-width="1.15" stroke-linejoin="round" clip-path="url(#c33)"/>
<polyline points="475.80,81.00 476.50,57.40 477.20,38.40 477.80,33.60 478.80,33.90 480.10,37.70 481.60,41.50 484.20,44.70 488.00,48.50 491.80,52.40 495.60,56.20 499.40,59.40 503.30,62.30 507.10,64.70 511.60,66.90" fill="none" stroke="#c2344a" stroke-width="1.1" stroke-linejoin="round" clip-path="url(#c04)"/>
<polyline points="475.80,81.00 476.30,70.20 476.80,65.30 477.60,67.00 479.10,68.30 481.60,69.50 485.50,70.40 490.50,70.50 495.60,70.20 500.70,69.30 505.80,68.30 511.60,66.90 519.80,65.60 527.20,65.80 536.20,66.90 542.80,67.40 547.60,68.30" fill="none" stroke="#2c7cd0" stroke-width="1.1" stroke-linejoin="round" clip-path="url(#c04)"/>
<polyline points="475.90,176.00 476.60,140.50 477.40,106.70 478.10,104.60 479.20,108.60 480.60,114.20 482.40,118.90 485.20,122.70 489.00,128.30 492.70,133.90 496.50,139.50 500.20,144.20 504.00,148.00 508.60,151.30 512.00,154.20" fill="none" stroke="#c2344a" stroke-width="1.1" stroke-linejoin="round" clip-path="url(#c14)"/>
<polyline points="475.90,176.00 476.60,159.20 477.40,150.80 478.70,154.50 481.50,157.30 485.20,159.20 490.90,160.10 496.50,159.20 502.10,157.30 507.70,155.10 512.00,154.20 516.40,152.90 522.50,152.50 531.20,153.30 540.00,154.90 547.60,156.40" fill="none" stroke="#2c7cd0" stroke-width="1.1" stroke-linejoin="round" clip-path="url(#c14)"/>
<polyline points="477.30,226.60 477.70,219.20 479.20,215.00 481.40,215.20 485.10,216.80 490.60,218.70 496.10,220.10 501.70,221.20 507.20,222.00 512.90,222.30" fill="none" stroke="#c2344a" stroke-width="1.1" stroke-linejoin="round" clip-path="url(#c24)"/>
<polyline points="475.80,258.00 476.60,244.10 477.30,228.40 478.60,225.70 481.40,225.30 485.10,224.90 492.50,224.40 499.80,223.80 507.20,223.10 513.70,223.00 520.00,222.70 526.80,222.60 535.60,223.10 546.90,223.30 547.60,223.30" fill="none" stroke="#2c7cd0" stroke-width="1.1" stroke-linejoin="round" clip-path="url(#c24)"/>
<polyline points="475.50,372.60 477.80,361.30 480.70,350.80 484.60,339.30 489.40,328.70 495.10,319.10 500.90,311.40 506.60,305.30 512.40,300.50" fill="none" stroke="#c2344a" stroke-width="1.1" stroke-linejoin="round" clip-path="url(#c34)"/>
<polyline points="475.50,372.60 483.60,363.30 493.20,354.60 500.90,347.90 508.50,341.20 516.20,332.50 523.90,324.90 531.60,316.20 539.30,308.60 547.60,300.50" fill="none" stroke="#2c7cd0" stroke-width="1.1" stroke-linejoin="round" clip-path="url(#c34)"/>
<line x1="70.65" y1="372.70" x2="70.65" y2="311.95" stroke="#555" stroke-width="1" stroke-dasharray="3.7 3.2"/>
<line x1="89.54" y1="372.70" x2="89.54" y2="311.95" stroke="#555" stroke-width="1" stroke-dasharray="3.7 3.2"/>
<line x1="80.24" y1="372.70" x2="80.24" y2="311.95" stroke="#555" stroke-width="1" stroke-dasharray="3.7 3.2"/>
<line x1="153.83" y1="372.70" x2="153.83" y2="311.95" stroke="#555" stroke-width="1" stroke-dasharray="3.7 3.2"/>
<line x1="198.66" y1="372.70" x2="198.66" y2="311.95" stroke="#555" stroke-width="1" stroke-dasharray="3.7 3.2"/>
<line x1="181.30" y1="372.70" x2="181.30" y2="311.95" stroke="#555" stroke-width="1" stroke-dasharray="3.7 3.2"/>
<line x1="254.28" y1="372.70" x2="254.28" y2="311.95" stroke="#555" stroke-width="1" stroke-dasharray="3.7 3.2"/>
<line x1="302.00" y1="372.70" x2="302.00" y2="311.95" stroke="#555" stroke-width="1" stroke-dasharray="3.7 3.2"/>
<line x1="280.31" y1="372.70" x2="280.31" y2="311.95" stroke="#555" stroke-width="1" stroke-dasharray="3.7 3.2"/>
<path d="M74.50 372.70V370.50H75.50V372.70ZM75.50 372.70V366.80H76.50V372.70ZM76.50 372.70V362.80H77.80V372.70ZM77.80 372.70V336.00H79.40V372.70ZM79.40 372.70V315.50H81.00V372.70ZM81.00 372.70V362.80H82.50V372.70ZM82.50 372.70V366.80H83.50V372.70ZM83.50 372.70V370.50H84.50V372.70Z" fill="#3a6fa5" stroke="#1d2a3a" stroke-width="0.5"/>
<path d="M79.4 315.8 L80.2 313.2 L81.0 315.8 Z" fill="#2a3f58"/>
<polyline points="70.50,372.60 72.50,372.30 74.50,371.20 75.50,370.30" fill="none" stroke="#111" stroke-width="0.9" stroke-linejoin="round"/>
<polyline points="83.50,370.30 85.00,371.50 87.00,372.30 89.00,372.60" fill="none" stroke="#111" stroke-width="0.9" stroke-linejoin="round"/>
<path d="M173.70 372.70V370.70H174.20V372.70ZM174.20 372.70V367.50H176.00V372.70ZM176.00 372.70V362.40H177.80V372.70ZM177.80 372.70V354.10H179.20V372.70ZM179.20 372.70V341.20H182.90V372.70ZM182.90 372.70V365.70H183.80V372.70ZM183.80 372.70V369.40H186.10V372.70ZM186.10 372.70V371.00H187.50V372.70Z" fill="#8d9a35" stroke="#2a2a10" stroke-width="0.5"/>
<polyline points="162.00,372.60 166.00,372.30 170.00,371.70 173.70,370.70" fill="none" stroke="#222" stroke-width="0.9" stroke-linejoin="round"/>
<polyline points="187.50,371.20 190.00,372.00 195.00,372.50 200.00,372.60" fill="none" stroke="#222" stroke-width="0.9" stroke-linejoin="round"/>
<path d="M258.50 372.70V371.00H260.00V372.70ZM260.00 372.70V370.50H263.00V372.70ZM263.00 372.70V370.80H270.00V372.70ZM270.00 372.70V369.50H271.50V372.70ZM271.50 372.70V365.00H273.50V372.70ZM273.50 372.70V367.00H275.00V372.70ZM275.00 372.70V365.00H276.50V372.70ZM276.50 372.70V367.00H277.50V372.70ZM277.50 372.70V363.50H279.50V372.70ZM279.50 372.70V365.00H280.50V372.70ZM280.50 372.70V362.00H282.00V372.70ZM282.00 372.70V360.00H283.30V372.70ZM283.30 372.70V349.30H284.80V372.70ZM284.80 372.70V367.00H286.50V372.70ZM286.50 372.70V369.50H289.00V372.70ZM289.00 372.70V371.00H293.00V372.70Z" fill="#c6804f" stroke="#3a2010" stroke-width="0.5"/>
<polyline points="252.00,372.60 255.00,372.30 258.50,371.30" fill="none" stroke="#222" stroke-width="0.9" stroke-linejoin="round"/>
<polyline points="293.00,371.50 297.00,372.20 302.00,372.60" fill="none" stroke="#222" stroke-width="0.9" stroke-linejoin="round"/>
<text x="45.25" y="319.50" font-size="9.9" textLength="22.50" lengthAdjust="spacingAndGlyphs" style="fill:#7a7a7a;stroke:#7a7a7a">−0.7C</text>
<text x="93.55" y="319.50" font-size="9.9" textLength="19.30" lengthAdjust="spacingAndGlyphs" style="fill:#7a7a7a;stroke:#7a7a7a">0.6C</text>
<rect x="62.3" y="331.3" width="36.7" height="10.099999999999966" fill="#fff"/>
<circle cx="65.6" cy="336.8" r="2.5" fill="none" stroke="#7a7a7a" stroke-width="0.75"/>
<line x1="63.224999999999994" y1="339.175" x2="67.975" y2="334.425" stroke="#7a7a7a" stroke-width="0.75"/>
<text x="68.95" y="339.50" font-size="9.9" textLength="29.40" lengthAdjust="spacingAndGlyphs" style="fill:#7a7a7a;stroke:#7a7a7a">−0.04C</text>
<text x="155.65" y="320.30" font-size="9.9" textLength="24.40" lengthAdjust="spacingAndGlyphs" style="fill:#7a7a7a;stroke:#7a7a7a">−2.0C</text>
<text x="189.15" y="321.30" font-size="9.9" textLength="19.30" lengthAdjust="spacingAndGlyphs" style="fill:#7a7a7a;stroke:#7a7a7a">1.1C</text>
<rect x="165.5" y="324.6" width="32.0" height="10.0" fill="#fff"/>
<circle cx="169.0" cy="330.0" r="2.5" fill="none" stroke="#7a7a7a" stroke-width="0.75"/>
<line x1="166.625" y1="332.375" x2="171.375" y2="327.625" stroke="#7a7a7a" stroke-width="0.75"/>
<text x="172.35" y="332.60" font-size="9.9" textLength="24.40" lengthAdjust="spacingAndGlyphs" style="fill:#7a7a7a;stroke:#7a7a7a">−0.1C</text>
<text x="255.65" y="320.70" font-size="9.9" textLength="25.10" lengthAdjust="spacingAndGlyphs" style="fill:#7a7a7a;stroke:#7a7a7a">−2.1C</text>
<text x="292.75" y="321.30" font-size="9.9" textLength="19.30" lengthAdjust="spacingAndGlyphs" style="fill:#7a7a7a;stroke:#7a7a7a">1.2C</text>
<rect x="264.3" y="331.2" width="32.69999999999999" height="10.199999999999989" fill="#fff"/>
<circle cx="267.9" cy="337.2" r="2.5" fill="none" stroke="#7a7a7a" stroke-width="0.75"/>
<line x1="265.525" y1="339.575" x2="270.275" y2="334.825" stroke="#7a7a7a" stroke-width="0.75"/>
<text x="271.55" y="339.90" font-size="9.9" textLength="24.30" lengthAdjust="spacingAndGlyphs" style="fill:#7a7a7a;stroke:#7a7a7a">−0.3C</text>
<text x="374.75" y="64.50" font-size="9.6" textLength="67.70" lengthAdjust="spacingAndGlyphs">Constant power</text>
<rect x="491.3" y="107.5" width="56" height="26.8" fill="#555"/>
<rect x="490.3" y="106.5" width="56" height="26.8" fill="#fff" stroke="#444" stroke-width="0.9"/>
<line x1="494.2" y1="113.6" x2="513.7" y2="113.6" stroke="#c2344a" stroke-width="1.5"/>
<line x1="494.2" y1="125.1" x2="513.7" y2="125.1" stroke="#2c7cd0" stroke-width="1.5"/>
<text x="516.95" y="115.10" font-size="9.6" textLength="23.20" lengthAdjust="spacingAndGlyphs">warm</text>
<text x="519.65" y="127.80" font-size="9.6" textLength="17.50" lengthAdjust="spacingAndGlyphs">cold</text>
<rect x="44.50" y="33.45" width="72.65" height="47.95" fill="none" stroke="#555555" stroke-width="1"/>
<rect x="146.60" y="33.45" width="72.30" height="47.95" fill="none" stroke="#555555" stroke-width="1"/>
<rect x="248.50" y="33.45" width="72.30" height="47.95" fill="none" stroke="#555555" stroke-width="1"/>
<rect x="373.50" y="33.45" width="72.35" height="47.95" fill="none" stroke="#555555" stroke-width="1"/>
<rect x="475.55" y="33.45" width="72.05" height="47.95" fill="none" stroke="#555555" stroke-width="1"/>
<rect x="44.50" y="104.50" width="72.65" height="72.10" fill="none" stroke="#555555" stroke-width="1"/>
<rect x="146.60" y="104.50" width="72.30" height="72.10" fill="none" stroke="#555555" stroke-width="1"/>
<rect x="248.50" y="104.50" width="72.30" height="72.10" fill="none" stroke="#555555" stroke-width="1"/>
<rect x="373.50" y="104.50" width="72.35" height="72.10" fill="none" stroke="#555555" stroke-width="1"/>
<rect x="475.55" y="104.50" width="72.05" height="72.10" fill="none" stroke="#555555" stroke-width="1"/>
<rect x="44.50" y="199.50" width="72.65" height="72.15" fill="none" stroke="#555555" stroke-width="1"/>
<rect x="146.60" y="199.50" width="72.30" height="72.15" fill="none" stroke="#555555" stroke-width="1"/>
<rect x="248.50" y="199.50" width="72.30" height="72.15" fill="none" stroke="#555555" stroke-width="1"/>
<rect x="373.50" y="199.50" width="72.35" height="72.15" fill="none" stroke="#555555" stroke-width="1"/>
<rect x="475.55" y="199.50" width="72.05" height="72.15" fill="none" stroke="#555555" stroke-width="1"/>
<path d="M44.50 311.95 V372.70 H117.15" fill="none" stroke="#555555" stroke-width="1"/>
<path d="M146.60 311.95 V372.70 H218.90" fill="none" stroke="#555555" stroke-width="1"/>
<path d="M248.50 311.95 V372.70 H320.80" fill="none" stroke="#555555" stroke-width="1"/>
<rect x="373.50" y="300.60" width="72.35" height="72.10" fill="none" stroke="#555555" stroke-width="1"/>
<rect x="475.55" y="300.60" width="72.05" height="72.10" fill="none" stroke="#555555" stroke-width="1"/>
<line x1="330.2" y1="4.5" x2="330.2" y2="401" stroke="#3a3a3a" stroke-width="1.25" stroke-dasharray="3.5 3.3"/>
</svg></body></html>
